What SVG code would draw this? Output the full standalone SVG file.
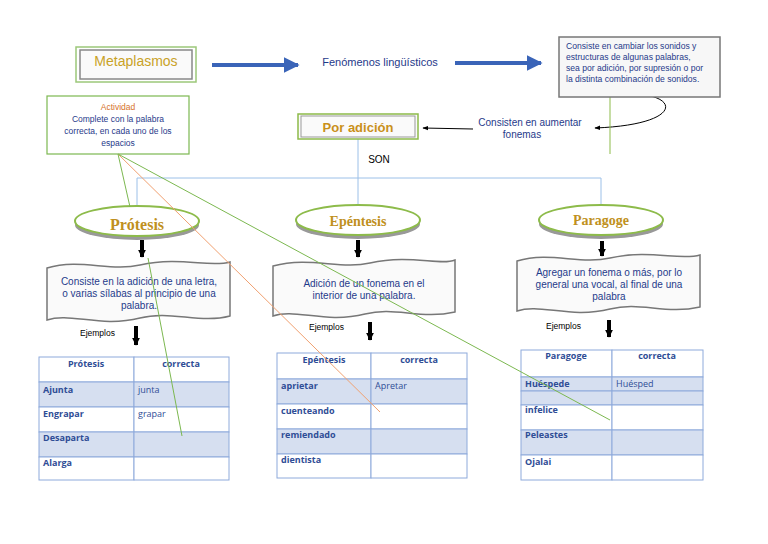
<svg xmlns="http://www.w3.org/2000/svg" width="768" height="544" viewBox="0 0 768 544">
<defs>
<style>
text{font-family:"Liberation Sans",Arial,sans-serif}
.blue{fill:#1f3a8a}
.cal{font-family:"Open Sans","Liberation Sans",sans-serif;font-weight:bold;font-size:9px;fill:#2f4d96}
.nb{font-weight:normal}
.tb{fill:#fff;stroke:#8eaadb;stroke-width:1}
.sh{fill:#d6dff0;stroke:#8eaadb;stroke-width:1}
.wave{fill:#fafafa;stroke:#777;stroke-width:1.5}
.ell{fill:#fff;stroke:#8dbb4a;stroke-width:2}
.eltx{font-family:"Liberation Serif",serif;font-weight:bold;fill:#c09020}
.blk{stroke:#000;stroke-width:4}
</style>
<marker id="ab" viewBox="0 0 10 10" refX="9" refY="5" markerWidth="4" markerHeight="4" orient="auto"><path d="M0,0L10,5L0,10z" fill="#3a64b8"/></marker>
<marker id="ak" viewBox="0 0 10 10" refX="9" refY="5" markerWidth="6" markerHeight="6" orient="auto"><path d="M0,1L10,5L0,9z" fill="#000"/></marker>
<marker id="ad" viewBox="0 0 10 10" refX="9" refY="5" markerWidth="2" markerHeight="2" orient="auto"><path d="M0,0L10,5L0,10z" fill="#000"/></marker>
</defs>
<rect width="768" height="544" fill="#fff"/>

<g id="connectors" fill="none">
<line x1="212" y1="65" x2="298" y2="65" stroke="#3a64b8" stroke-width="4" marker-end="url(#ab)"/>
<line x1="455" y1="63" x2="541" y2="63" stroke="#3a64b8" stroke-width="4" marker-end="url(#ab)"/>
<path d="M645,95 C680,100 675,125 595,128" stroke="#000" stroke-width="1" marker-end="url(#ak)"/>
<line x1="473" y1="129" x2="423" y2="128" stroke="#000" stroke-width="1" marker-end="url(#ak)"/>
<line x1="610" y1="97" x2="610" y2="154" stroke="#8dbb4a" stroke-width="1"/>
<path d="M358,139V207M137,208V178H601V205" stroke="#9cc0e8" stroke-width="1"/>
<line x1="142" y1="240" x2="142" y2="257" class="blk" marker-end="url(#ad)"/>
<line x1="358" y1="240" x2="358" y2="257" class="blk" marker-end="url(#ad)"/>
<line x1="602" y1="241" x2="602" y2="256" class="blk" marker-end="url(#ad)"/>
<line x1="136" y1="326" x2="136" y2="345" class="blk" marker-end="url(#ad)"/>
<line x1="370" y1="322" x2="370" y2="340" class="blk" marker-end="url(#ad)"/>
<line x1="609" y1="320" x2="609" y2="337" class="blk" marker-end="url(#ad)"/>
</g>

<g id="metaplasmos">
<rect x="76" y="47" width="120" height="35" fill="#fff" stroke="#9cc87a" stroke-width="1.5"/>
<rect x="80" y="50" width="112" height="29" fill="#fafafa" stroke="#888" stroke-width="1.5"/>
<text x="136" y="66" font-size="14" fill="#c9a227" text-anchor="middle">Metaplasmos</text>
</g>
<g id="fenomenos"><text x="380" y="66" font-size="11" class="blue" text-anchor="middle">Fenómenos lingüísticos</text></g>
<g id="consiste">
<rect x="559" y="37" width="161" height="60" fill="#f7f7f7" stroke="#777" stroke-width="1.5"/>
<g font-size="8.6" class="blue"><text x="566" y="49">Consiste en cambiar los sonidos y</text><text x="566" y="60">estructuras de algunas palabras,</text><text x="566" y="71">sea por adición, por supresión o por</text><text x="566" y="82">la distinta combinación de sonidos.</text></g>
</g>
<g id="consisten"><text x="530" y="126" font-size="10" class="blue" text-anchor="middle">Consisten en aumentar</text><text x="522" y="138" font-size="10" class="blue" text-anchor="middle">fonemas</text></g>
<g id="poradicion">
<rect x="298" y="114" width="120" height="25" fill="#fafafa" stroke="#8dbb4a" stroke-width="1.5"/>
<rect x="301" y="116" width="114" height="21" fill="none" stroke="#999" stroke-width="1"/>
<text x="358" y="132" font-size="13" font-weight="bold" fill="#c9901a" text-anchor="middle">Por adición</text>
</g>
<g id="son"><text x="379" y="163" font-size="10" fill="#000" text-anchor="middle">SON</text></g>
<g id="actividad">
<rect x="47" y="96" width="142" height="58" fill="#fff" stroke="#7cb850" stroke-width="1.2"/>
<text x="118" y="110" font-size="8.5" fill="#d6722a" text-anchor="middle" font-family="Open Sans,sans-serif">Actividad</text>
<g font-size="8.5" fill="#1f3a8a" text-anchor="middle" font-family="Open Sans,sans-serif"><text x="118" y="122">Complete con la palabra</text><text x="118" y="134">correcta, en cada uno de los</text><text x="118" y="146">espacios</text></g>
</g>

<g id="protesis">
<ellipse cx="137" cy="225" rx="62" ry="15" fill="#999"/>
<ellipse cx="137" cy="221" rx="62" ry="15" class="ell"/>
<text x="137" y="230" font-size="16" class="eltx" text-anchor="middle">Prótesis</text>
</g>
<g id="epentesis">
<ellipse cx="358" cy="224" rx="62" ry="15" fill="#999"/>
<ellipse cx="358" cy="220" rx="62" ry="15" class="ell"/>
<text x="358" y="226" font-size="14" class="eltx" text-anchor="middle">Epéntesis</text>
</g>
<g id="paragoge">
<ellipse cx="601" cy="224" rx="62" ry="15" fill="#999"/>
<ellipse cx="601" cy="220" rx="62" ry="15" class="ell"/>
<text x="601" y="225" font-size="14" class="eltx" text-anchor="middle">Paragoge</text>
</g>

<g id="desc-protesis">
<path d="M47,268 C80,258 110,272 140,265 C180,256 210,268 230,262 L230,316 C200,324 170,310 140,318 C100,328 70,312 47,320 Z" class="wave"/>
<g font-size="10" class="blue" text-anchor="middle"><text x="139" y="285">Consiste en la adición de una letra,</text><text x="139" y="297">o varias sílabas al principio de una</text><text x="139" y="309">palabra.</text></g>
</g>
<g id="desc-epentesis">
<path d="M273,266 C310,256 340,270 370,263 C410,254 440,266 455,260 L455,312 C420,320 395,306 365,314 C325,324 295,308 273,316 Z" class="wave"/>
<g font-size="10" class="blue" text-anchor="middle"><text x="364" y="287">Adición de un fonema en el</text><text x="364" y="299">interior de una palabra.</text></g>
</g>
<g id="desc-paragoge">
<path d="M517,261 C550,251 580,265 610,258 C650,249 680,261 700,255 L700,307 C665,315 640,301 610,309 C570,319 540,303 517,311 Z" class="wave"/>
<g font-size="10" class="blue" text-anchor="middle"><text x="609" y="276">Agregar un fonema o más, por lo</text><text x="609" y="288">general una vocal, al final de una</text><text x="609" y="300">palabra</text></g>
</g>

<g font-size="8.5" fill="#000" font-family="Open Sans,sans-serif">
<text x="80" y="336">Ejemplos</text><text x="309" y="330">Ejemplos</text><text x="546" y="329">Ejemplos</text>
</g>

<g id="tabla-protesis">
<rect x="39" y="357" width="95" height="25" class="tb"/><rect x="134" y="357" width="95" height="25" class="tb"/>
<rect x="39" y="382" width="95" height="25" class="sh"/><rect x="134" y="382" width="95" height="25" class="sh"/>
<rect x="39" y="407" width="95" height="25" class="tb"/><rect x="134" y="407" width="95" height="25" class="tb"/>
<rect x="39" y="432" width="95" height="25" class="sh"/><rect x="134" y="432" width="95" height="25" class="sh"/>
<rect x="39" y="457" width="95" height="23" class="tb"/><rect x="134" y="457" width="95" height="23" class="tb"/>
<text x="86" y="367" class="cal" text-anchor="middle">Prótesis</text><text x="181" y="367" class="cal" text-anchor="middle">correcta</text>
<text x="43" y="393" class="cal">Ajunta</text><text x="138" y="393" class="cal nb">junta</text>
<text x="43" y="417" class="cal">Engrapar</text><text x="138" y="417" class="cal nb">grapar</text>
<text x="43" y="441" class="cal">Desaparta</text>
<text x="43" y="466" class="cal">Alarga</text>
</g>
<g id="tabla-epentesis">
<rect x="277" y="353" width="94" height="26" class="tb"/><rect x="371" y="353" width="96" height="26" class="tb"/>
<rect x="277" y="379" width="94" height="25" class="sh"/><rect x="371" y="379" width="96" height="25" class="sh"/>
<rect x="277" y="404" width="94" height="25" class="tb"/><rect x="371" y="404" width="96" height="25" class="tb"/>
<rect x="277" y="429" width="94" height="25" class="sh"/><rect x="371" y="429" width="96" height="25" class="sh"/>
<rect x="277" y="454" width="94" height="24" class="tb"/><rect x="371" y="454" width="96" height="24" class="tb"/>
<text x="324" y="363" class="cal" text-anchor="middle">Epéntesis</text><text x="419" y="363" class="cal" text-anchor="middle">correcta</text>
<text x="281" y="389" class="cal">aprietar</text><text x="375" y="389" class="cal nb">Apretar</text>
<text x="281" y="414" class="cal">cuenteando</text>
<text x="281" y="438" class="cal">remiendado</text>
<text x="281" y="463" class="cal">dientista</text>
</g>
<g id="tabla-paragoge">
<rect x="521" y="350" width="91" height="27" class="tb"/><rect x="612" y="350" width="91" height="27" class="tb"/>
<rect x="521" y="377" width="91" height="14" class="sh"/><rect x="612" y="377" width="91" height="14" class="sh"/>
<rect x="521" y="391" width="91" height="14" class="sh"/><rect x="612" y="391" width="91" height="14" class="sh"/>
<rect x="521" y="405" width="91" height="25" class="tb"/><rect x="612" y="405" width="91" height="25" class="tb"/>
<rect x="521" y="430" width="91" height="25" class="sh"/><rect x="612" y="430" width="91" height="25" class="sh"/>
<rect x="521" y="455" width="91" height="25" class="tb"/><rect x="612" y="455" width="91" height="25" class="tb"/>
<text x="566" y="359" class="cal" text-anchor="middle">Paragoge</text><text x="657" y="359" class="cal" text-anchor="middle">correcta</text>
<text x="525" y="387" class="cal">Huéspede</text><text x="616" y="387" class="cal nb">Huésped</text>
<text x="525" y="413" class="cal">infelice</text>
<text x="525" y="438" class="cal">Peleastes</text>
<text x="525" y="465" class="cal">Ojalai</text>
</g>

<g id="lineas-actividad" fill="none" stroke-width="1">
<line x1="118" y1="154" x2="130" y2="207" stroke="#7cb850"/>
<line x1="118" y1="154" x2="380" y2="412" stroke="#f0a070"/>
<line x1="118" y1="154" x2="610" y2="420" stroke="#7cb850"/>
<line x1="148" y1="258" x2="182" y2="436" stroke="#7cb850"/>
</g>
</svg>
